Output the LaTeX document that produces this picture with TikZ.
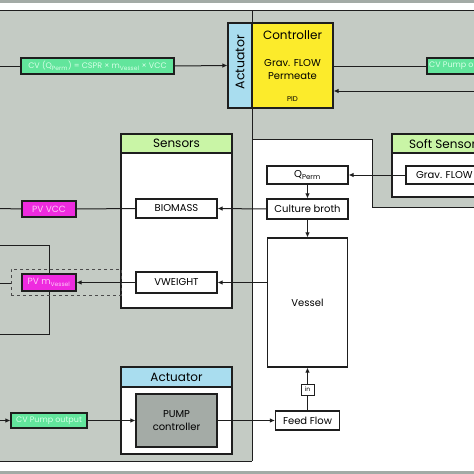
\documentclass[tikz,border=0pt]{standalone}
\usepackage{fontspec}
\setmainfont{Poppins}
\usetikzlibrary{arrows.meta}
\definecolor{panel}{HTML}{C4CBC4}
\definecolor{band}{HTML}{A3ABA6}
\definecolor{mint}{HTML}{62E59C}
\definecolor{minttxt}{HTML}{D6FFE6}
\definecolor{mag}{HTML}{EE2BDF}
\definecolor{magtxt}{HTML}{FFC9F7}
\definecolor{hgreen}{HTML}{C9F5A6}
\definecolor{lblue}{HTML}{A9DDEF}
\definecolor{cyel}{HTML}{FCEB2B}
\definecolor{pgray}{HTML}{A4ABA6}
\definecolor{ink}{HTML}{1E1E1E}
\begin{document}
\begin{tikzpicture}[x=1pt,y=-1pt,
  box/.style={draw=ink,line width=1.1pt,inner sep=0pt,anchor=center,fill=white,font=\fontsize{10}{12}\selectfont},
  greenbox/.style={box,fill=mint,text=minttxt,font=\fontsize{8}{10}\selectfont},
  magbox/.style={box,fill=mag,text=magtxt,font=\fontsize{9}{11}\selectfont},
  headbox/.style={box,font=\fontsize{12}{14}\selectfont},
  conn/.style={draw=ink,line width=1pt},
  arrconn/.style={conn,-{Latex[length=5pt,width=4.5pt]}},
  lbl/.style={inner sep=0pt,font=\fontsize{10}{12}\selectfont}
]
\clip (0,0) rectangle (474,474);
% background
\fill[white] (0,0) rectangle (474,474);
\fill[band] (0,0) rectangle (474,2.5);
\fill[band] (0,470.5) rectangle (474,474);
\fill[panel] (0,10) rectangle (474,461);
\fill[white] (252,139) -- (372,139) -- (372,207) -- (474,207) -- (474,461.5) -- (252,461.5) -- cycle;
\draw[conn] (0,10) -- (474,10);
\draw[conn] (0,461) -- (252,461);
\draw[conn] (252,10) -- (252,23);
\draw[conn] (252,108) -- (252,461);
\draw[conn] (252,139) -- (372,139) -- (372,207) -- (474,207);

% top row
\node[greenbox,minimum width=153pt,minimum height=16pt] (cv) at (97.5,66)
  {CV (Q\textsubscript{Perm}) = CSPR × m\textsubscript{Vessel} × VCC};
\node[box,fill=lblue,minimum width=24pt,minimum height=85pt] (act1) at (240,65.5) {};
\node[lbl,rotate=90,font=\fontsize{12.5}{14}\selectfont] (act1t) at (240,62) {Actuator};
\node[box,fill=cyel,minimum width=81pt,minimum height=85pt] (ctrl) at (292.5,65.5) {};
\draw[ink,line width=1pt,dash pattern=on 3pt off 2pt] (ctrl.north west) -- (ctrl.south west);
\node[lbl,font=\fontsize{12}{14}\selectfont] (ctrlt) at (292.5,35) {Controller};
\node[lbl] (ctrlg) at (292.5,63) {Grav. FLOW};
\node[lbl] (ctrlp) at (292.5,76) {Permeate};
\node[lbl,font=\fontsize{7}{8}\selectfont] (ctrlpid) at (292.5,99) {PID};
\node[greenbox,minimum width=93pt,minimum height=16pt] (cvpump) at (473.5,66) {};
\node[lbl,anchor=west,text=minttxt,font=\fontsize{8}{10}\selectfont] (cvpumpt) at (429,66) {CV Pump output};
\coordinate (inCV) at (0,66);
\coordinate (inCtrl) at (474,91);
\draw[conn] (inCV) -- (cv.west);
\draw[arrconn] (cv.east) -- (act1.west);
\draw[conn] (ctrl.east |- cv) -- (cvpump.west);
\draw[arrconn] (inCtrl) -- (inCtrl -| ctrl.east);

% sensors
\node[box,minimum width=111pt,minimum height=174pt] (sens) at (176.5,221) {};
\node[headbox,fill=hgreen,minimum width=111pt,minimum height=19pt,anchor=north] (sensh) at (sens.north) {Sensors};
\node[box,minimum width=81pt,minimum height=19pt] (bio) at (176.5,208.5) {BIOMASS};
\node[box,minimum width=81pt,minimum height=21pt] (vw) at (176.5,282.5) {VWEIGHT};

% left loop and dashed group
\coordinate (lp1) at (0,245);
\coordinate (lp2) at (0,334);
\draw[conn] (lp1) -- (49,245) -- (49,334) -- (lp2);
\node[draw=ink!80,line width=0.9pt,dashed,inner sep=0pt,minimum width=110pt,minimum height=26pt] (grp) at (66,282) {};
\coordinate (inGrp) at (0,283);
\draw[conn] (inGrp) -- (grp.west |- inGrp);
\node[magbox,minimum width=54pt,minimum height=16pt] (pvvcc) at (49,209) {PV VCC};
\node[magbox,minimum width=54pt,minimum height=17pt] (pvm) at (49,282.5) {PV m\textsubscript{Vessel}};
\coordinate (inVCC) at (0,208.5);
\draw[conn] (inVCC) -- (pvvcc.west);
\draw[conn] (pvvcc.east) -- (bio.west);
\draw[arrconn] (vw.west) -- (pvm.east);

% process
\node[box,minimum width=81pt,minimum height=18pt] (qp) at (307.5,175) {Q\textsubscript{Perm}};
\node[box,minimum width=81pt,minimum height=20pt] (broth) at (307.5,209) {Culture broth};
\node[box,minimum width=80pt,minimum height=129pt] (vessel) at (307.5,302.5) {Vessel};
\node[box,line width=0.9pt,minimum width=13pt,minimum height=11pt,font=\fontsize{6}{7}\selectfont] (inn) at (307.5,389.5) {in};
\node[box,minimum width=64pt,minimum height=19pt] (feed) at (307.5,420.5) {Feed Flow};
\draw[arrconn] (qp.south) -- (broth.north);
\draw[arrconn] (broth.south) -- (vessel.north);
\draw[arrconn] (broth.west) -- (bio.east);
\draw[arrconn] (vessel.west |- vw) -- (vw.east);
\draw[conn] (feed.north) -- (inn.south);
\draw[arrconn] (inn.north) -- (vessel.south);

% soft sensors
\node[box,minimum width=128pt,minimum height=63pt] (soft) at (456,165.5) {};
\node[box,fill=hgreen,minimum width=128pt,minimum height=19pt,anchor=north] (softh) at (soft.north) {};
\node[lbl,anchor=west,font=\fontsize{12}{14}\selectfont] (softt) at (409,143.5) {Soft Sensors};
\node[box,minimum width=114pt,minimum height=18pt] (gf) at (463,175) {};
\node[lbl,anchor=west] (gft) at (416,175) {Grav. FLOW};
\draw[arrconn] (gf.west) -- (qp.east);

% actuator bottom
\node[box,minimum width=111pt,minimum height=87pt] (act2) at (176.5,410.5) {};
\node[headbox,fill=lblue,minimum width=111pt,minimum height=20pt,anchor=north] (act2h) at (act2.north) {Actuator};
\node[box,fill=pgray,minimum width=81pt,minimum height=53pt,align=center,font=\fontsize{10}{13}\selectfont] (pump) at (176.5,420.5) {PUMP\\controller};
\node[greenbox,minimum width=76pt,minimum height=15pt] (cvpo) at (49,420.5) {CV Pump output};
\coordinate (inPO) at (0,420.5);
\draw[arrconn] (inPO) -- (cvpo.west);
\draw[arrconn] (cvpo.east) -- (pump.west);
\draw[arrconn] (pump.east) -- (feed.west);
\end{tikzpicture}
\end{document}
